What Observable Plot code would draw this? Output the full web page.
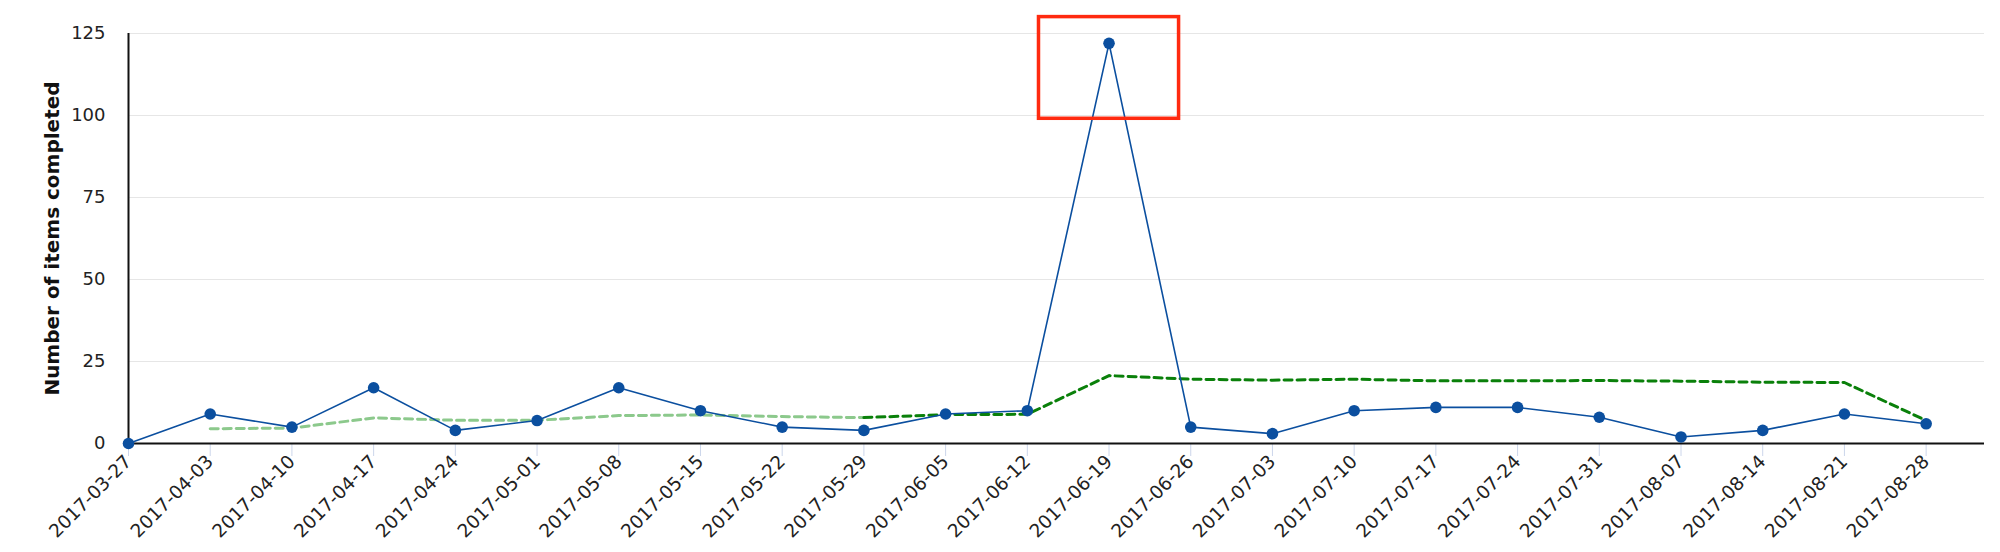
<!DOCTYPE html>
<html>
<head>
<meta charset="utf-8">
<script src="https://cdn.jsdelivr.net/npm/d3@7"></script>
<script src="https://cdn.jsdelivr.net/npm/@observablehq/plot@0.6"></script>
<style>
  html, body { margin: 0; padding: 0; background: #fff; }
  #chart { width: 2000px; height: 552px; }
</style>
</head>
<body>
<div id="chart"></div>
<script>
// ---- data ----
const weeks = ["2017-03-27","2017-04-03","2017-04-10","2017-04-17","2017-04-24","2017-05-01",
  "2017-05-08","2017-05-15","2017-05-22","2017-05-29","2017-06-05","2017-06-12","2017-06-19",
  "2017-06-26","2017-07-03","2017-07-10","2017-07-17","2017-07-24","2017-07-31","2017-08-07",
  "2017-08-14","2017-08-21","2017-08-28"];
const completed = [0, 9, 5, 17, 4, 7, 17, 10, 5, 4, 9, 10, 122, 5, 3, 10, 11, 11, 8, 2, 4, 9, 6];

// light-green dashed average (2017-04-03 .. 2017-05-29)
const earlyAvgWeeks = weeks.slice(1, 10);
const earlyAvg = [4.5, 4.7, 7.8, 7.1, 7.1, 8.5, 8.7, 8.2, 7.9];

// dark-green dashed rolling average (2017-05-29 .. 2017-08-28)
const rollingWeeks = weeks.slice(9);
const rollingAvg = [7.9, 8.8, 8.9, 20.7, 19.6, 19.3, 19.6, 19.1, 19.1, 19.2, 19.0, 18.7, 18.6, 7.0];

const yTicks = [0, 25, 50, 75, 100, 125];
const yTitle = "Number of items completed";

// highlighted region around the spike (data units)
const highlight = [{start: "2017-06-13", end: "2017-06-25", low: 99, high: 130}];

// ---- build ----
const parse = d3.utcParse("%Y-%m-%d");
const fmt = d3.utcFormat("%Y-%m-%d");
const weekDates = weeks.map(parse);
const mainData = weeks.map((w, i) => ({date: parse(w), value: completed[i]}));
const earlyData = earlyAvgWeeks.map((w, i) => ({date: parse(w), value: earlyAvg[i]}));
const rollData = rollingWeeks.map((w, i) => ({date: parse(w), value: rollingAvg[i]}));
const boxData = highlight.map(h => ({x1: parse(h.start), x2: parse(h.end), y1: h.low, y2: h.high}));

const xEnd = d3.utcDay.offset(weekDates[weekDates.length - 1], 5);

const blue = "#0b4f9f";

const chart = Plot.plot({
  width: 2000,
  height: 552,
  marginLeft: 128,
  marginRight: 16,
  marginTop: 33,
  marginBottom: 109,
  style: {fontFamily: "DejaVu Sans, sans-serif", fontSize: "17px", color: "#222", background: "#fff"},
  x: {type: "utc", domain: [weekDates[0], xEnd]},
  y: {domain: [0, 125]},
  marks: [
    Plot.gridY(yTicks, {stroke: "#e6e6e6", strokeOpacity: 1, strokeWidth: 1}),
    Plot.axisY(yTicks, {tickSize: 0, tickPadding: 23, label: null, fontSize: 18}),
    Plot.text([yTitle], {frameAnchor: "left", textAnchor: "middle", rotate: -90, dx: -76, fontWeight: "bold", fontSize: 20, fill: "#111"}),
    Plot.axisX(weekDates, {tickSize: 13, tickFormat: () => "", stroke: "#ccd6eb", label: null}),
    Plot.axisX(weekDates, {tickSize: 0, tickPadding: 15, tickRotate: -45, tickFormat: fmt, label: null, fontSize: 18.5}),
    Plot.ruleY([0], {stroke: "#111", strokeWidth: 2}),
    Plot.ruleX([weekDates[0]], {y1: 0, y2: 125, stroke: "#111", strokeWidth: 2}),
    Plot.line(earlyData, {x: "date", y: "value", stroke: "#8cc98c", strokeWidth: 3, strokeDasharray: "8,5"}),
    Plot.line(rollData, {x: "date", y: "value", stroke: "#0a800a", strokeWidth: 3, strokeDasharray: "8,5"}),
    Plot.line(mainData, {x: "date", y: "value", stroke: blue, strokeWidth: 1.6}),
    Plot.dot(mainData, {x: "date", y: "value", r: 5.8, fill: blue, stroke: "none"}),
    Plot.rect(boxData, {x1: "x1", x2: "x2", y1: "y1", y2: "y2", fill: "none", stroke: "#ff2a10", strokeWidth: 3.5})
  ]
});
document.getElementById("chart").appendChild(chart);
</script>
</body>
</html>
